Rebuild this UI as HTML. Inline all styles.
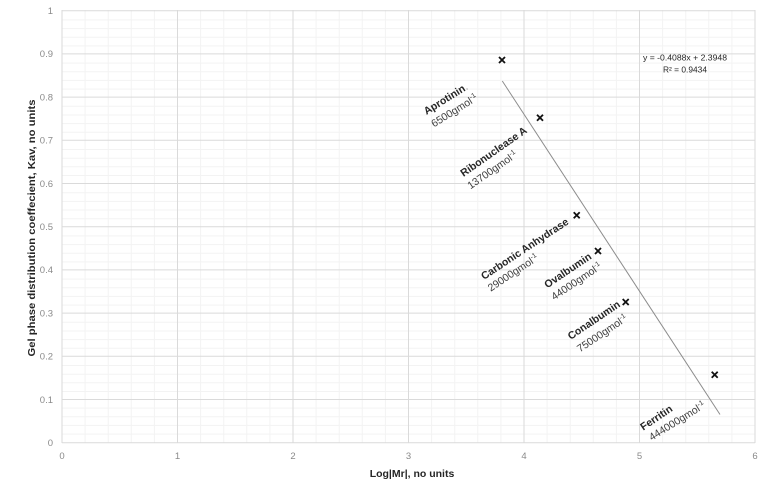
<!DOCTYPE html>
<html><head><meta charset="utf-8"><style>
html,body{margin:0;padding:0;background:#fff;}
svg{display:block;}
text{font-family:"Liberation Sans",sans-serif;}
</style></head><body>
<svg width="768" height="501" viewBox="0 0 768 501" xmlns="http://www.w3.org/2000/svg">
<rect width="768" height="501" fill="#fff"/>
<g stroke="#f3f3f3" stroke-width="1">
<line x1="85.1" y1="10" x2="85.1" y2="443"/><line x1="108.2" y1="10" x2="108.2" y2="443"/><line x1="131.3" y1="10" x2="131.3" y2="443"/><line x1="154.4" y1="10" x2="154.4" y2="443"/>
<line x1="200.6" y1="10" x2="200.6" y2="443"/><line x1="223.7" y1="10" x2="223.7" y2="443"/><line x1="246.8" y1="10" x2="246.8" y2="443"/><line x1="269.9" y1="10" x2="269.9" y2="443"/>
<line x1="316.1" y1="10" x2="316.1" y2="443"/><line x1="339.2" y1="10" x2="339.2" y2="443"/><line x1="362.3" y1="10" x2="362.3" y2="443"/><line x1="385.4" y1="10" x2="385.4" y2="443"/>
<line x1="431.6" y1="10" x2="431.6" y2="443"/><line x1="454.7" y1="10" x2="454.7" y2="443"/><line x1="477.8" y1="10" x2="477.8" y2="443"/><line x1="500.9" y1="10" x2="500.9" y2="443"/>
<line x1="547.1" y1="10" x2="547.1" y2="443"/><line x1="570.2" y1="10" x2="570.2" y2="443"/><line x1="593.3" y1="10" x2="593.3" y2="443"/><line x1="616.4" y1="10" x2="616.4" y2="443"/>
<line x1="662.6" y1="10" x2="662.6" y2="443"/><line x1="685.7" y1="10" x2="685.7" y2="443"/><line x1="708.8" y1="10" x2="708.8" y2="443"/><line x1="731.9" y1="10" x2="731.9" y2="443"/>
</g>
<g stroke="#f3f3f3" stroke-width="1">
<line x1="62" x2="755" y1="434.1" y2="434.1"/><line x1="62" x2="755" y1="425.4" y2="425.4"/><line x1="62" x2="755" y1="416.8" y2="416.8"/><line x1="62" x2="755" y1="408.1" y2="408.1"/>
<line x1="62" x2="755" y1="391.5" y2="391.5"/><line x1="62" x2="755" y1="382.8" y2="382.8"/><line x1="62" x2="755" y1="374.2" y2="374.2"/><line x1="62" x2="755" y1="365.5" y2="365.5"/>
<line x1="62" x2="755" y1="348.3" y2="348.3"/><line x1="62" x2="755" y1="339.6" y2="339.6"/><line x1="62" x2="755" y1="331.0" y2="331.0"/><line x1="62" x2="755" y1="322.3" y2="322.3"/>
<line x1="62" x2="755" y1="305.1" y2="305.1"/><line x1="62" x2="755" y1="296.4" y2="296.4"/><line x1="62" x2="755" y1="287.8" y2="287.8"/><line x1="62" x2="755" y1="279.1" y2="279.1"/>
<line x1="62" x2="755" y1="261.9" y2="261.9"/><line x1="62" x2="755" y1="253.2" y2="253.2"/><line x1="62" x2="755" y1="244.6" y2="244.6"/><line x1="62" x2="755" y1="235.9" y2="235.9"/>
<line x1="62" x2="755" y1="218.7" y2="218.7"/><line x1="62" x2="755" y1="210.0" y2="210.0"/><line x1="62" x2="755" y1="201.4" y2="201.4"/><line x1="62" x2="755" y1="192.7" y2="192.7"/>
<line x1="62" x2="755" y1="175.5" y2="175.5"/><line x1="62" x2="755" y1="166.8" y2="166.8"/><line x1="62" x2="755" y1="158.2" y2="158.2"/><line x1="62" x2="755" y1="149.5" y2="149.5"/>
<line x1="62" x2="755" y1="132.3" y2="132.3"/><line x1="62" x2="755" y1="123.6" y2="123.6"/><line x1="62" x2="755" y1="115.0" y2="115.0"/><line x1="62" x2="755" y1="106.3" y2="106.3"/>
<line x1="62" x2="755" y1="89.1" y2="89.1"/><line x1="62" x2="755" y1="80.4" y2="80.4"/><line x1="62" x2="755" y1="71.8" y2="71.8"/><line x1="62" x2="755" y1="63.1" y2="63.1"/>
<line x1="62" x2="755" y1="45.9" y2="45.9"/><line x1="62" x2="755" y1="37.2" y2="37.2"/><line x1="62" x2="755" y1="28.6" y2="28.6"/><line x1="62" x2="755" y1="19.9" y2="19.9"/>
</g>
<g stroke="#dadada" stroke-width="1">
<line x1="62" x2="755" y1="442.7" y2="442.7"/><line x1="62" x2="755" y1="399.5" y2="399.5"/><line x1="62" x2="755" y1="356.3" y2="356.3"/><line x1="62" x2="755" y1="313.1" y2="313.1"/><line x1="62" x2="755" y1="269.9" y2="269.9"/><line x1="62" x2="755" y1="226.7" y2="226.7"/><line x1="62" x2="755" y1="183.5" y2="183.5"/><line x1="62" x2="755" y1="140.3" y2="140.3"/><line x1="62" x2="755" y1="97.1" y2="97.1"/><line x1="62" x2="755" y1="53.9" y2="53.9"/><line x1="62" x2="755" y1="10.7" y2="10.7"/>
<line x1="62" y1="10" x2="62" y2="443"/><line x1="177.5" y1="10" x2="177.5" y2="443"/><line x1="293" y1="10" x2="293" y2="443"/><line x1="408.5" y1="10" x2="408.5" y2="443"/><line x1="524" y1="10" x2="524" y2="443"/><line x1="639.5" y1="10" x2="639.5" y2="443"/><line x1="755" y1="10" x2="755" y2="443"/>
</g>
<g font-size="9.5" fill="#8a8a8a" text-anchor="end">
<text x="53" y="446">0</text><text x="53" y="403">0.1</text><text x="53" y="359.6">0.2</text><text x="53" y="316.4">0.3</text><text x="53" y="273.2">0.4</text><text x="53" y="230">0.5</text><text x="53" y="186.8">0.6</text><text x="53" y="143.6">0.7</text><text x="53" y="100.4">0.8</text><text x="53" y="57.2">0.9</text><text x="53" y="14">1</text>
</g>
<g font-size="9.5" fill="#8a8a8a" text-anchor="middle">
<text x="62" y="459">0</text><text x="177.5" y="459">1</text><text x="293" y="459">2</text><text x="408.5" y="459">3</text><text x="524" y="459">4</text><text x="639.5" y="459">5</text><text x="755" y="459">6</text>
</g>
<text x="412" y="477" font-size="10.5" font-weight="bold" fill="#262626" text-anchor="middle">Log|Mr|, no units</text>
<text transform="translate(35,228) rotate(-90)" font-size="10.5" font-weight="bold" fill="#262626" text-anchor="middle" textLength="257" lengthAdjust="spacingAndGlyphs">Gel phase distribution coeffecient, Kav, no units</text>
<line x1="502.3" y1="81" x2="720" y2="414.5" stroke="#8c8c8c" stroke-width="1"/>
<g stroke="#111" stroke-width="1.8" fill="none">
<path d="M499,57 l6,6 M505,57 l-6,6"/>
<path d="M537,114.7 l6,6 M543,114.7 l-6,6"/>
<path d="M573.7,212.3 l6,6 M579.7,212.3 l-6,6"/>
<path d="M595,248 l6,6 M601,248 l-6,6"/>
<path d="M622.7,299 l6,6 M628.7,299 l-6,6"/>
<path d="M711.7,371.7 l6,6 M717.7,371.7 l-6,6"/>
</g>
<text x="643" y="60.5" font-size="8.3" fill="#262626" textLength="84" lengthAdjust="spacingAndGlyphs">y = -0.4088x + 2.3948</text>
<text x="663" y="72.5" font-size="8.3" fill="#262626" textLength="44" lengthAdjust="spacingAndGlyphs">R² = 0.9434</text>
<g font-size="10.5" fill="#262626">
<text transform="translate(426.5,115) rotate(-32)" font-weight="bold">Aprotinin<tspan font-weight="normal" fill="#888">.</tspan></text>
<text transform="translate(434,127.5) rotate(-32)" fill="#404040">6500gmol<tspan font-size="7" dy="-4">-1</tspan></text>
<text transform="translate(463.5,177) rotate(-35)" font-weight="bold">Ribonuclease A</text>
<text transform="translate(470.5,189.5) rotate(-35)" fill="#404040">13700gmol<tspan font-size="7" dy="-4">-1</tspan></text>
<text transform="translate(484,280) rotate(-33.5)" font-weight="bold">Carbonic Anhydrase</text>
<text transform="translate(490.7,291.7) rotate(-33.5)" fill="#404040">29000gmol<tspan font-size="7" dy="-4">-1</tspan></text>
<text transform="translate(547.3,288.5) rotate(-34)" font-weight="bold">Ovalbumin</text>
<text transform="translate(554.3,300.5) rotate(-34)" fill="#404040">44000gmol<tspan font-size="7" dy="-4">-1</tspan></text>
<text transform="translate(570.7,340) rotate(-34)" font-weight="bold">Conalbumin</text>
<text transform="translate(580,352.5) rotate(-34)" fill="#404040">75000gmol<tspan font-size="7" dy="-4">-1</tspan></text>
<text transform="translate(643.3,430.7) rotate(-34)" font-weight="bold">Ferritin</text>
<text transform="translate(651.7,441) rotate(-32)" fill="#404040">444000gmol<tspan font-size="7" dy="-4">-1</tspan></text>
</g>
</svg>
</body></html>
